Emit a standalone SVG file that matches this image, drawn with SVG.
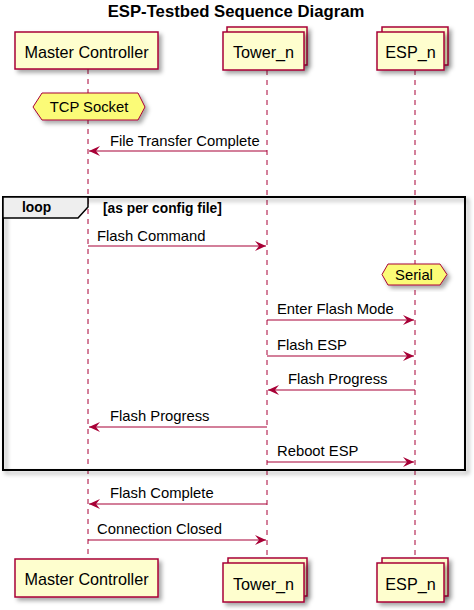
<svg xmlns="http://www.w3.org/2000/svg" width="474" height="610" viewBox="0 0 474 610">
<style>
text{font-family:"Liberation Sans",Arial,sans-serif;fill:#000}
.title{font-size:16.7px;font-weight:bold}
.pname{font-size:16.2px}
.msg{font-size:14.8px}
.box{fill:#FEFECE;stroke:#A80036;stroke-width:1.5}
.life{stroke:#A80036;stroke-width:1;stroke-dasharray:5,5;fill:none}
.hex{fill:#FBFB77;stroke:#A80036;stroke-width:1}
.arrow{stroke:#A80036;stroke-width:1.2;fill:none;marker-end:url(#ah)}
.loop{fill:none;stroke:#000;stroke-width:2}
.tab{fill:#EEEEEE;stroke:#000;stroke-width:1.5}
.bold{font-weight:bold;font-size:13.8px}
</style>
<defs>
<filter id="sh" x="-10%" y="-10%" width="130%" height="140%">
<feDropShadow dx="3" dy="3" stdDeviation="2" flood-color="#000" flood-opacity="0.35"/>
</filter>
<marker id="ah" viewBox="0 0 12 10" refX="11" refY="5" markerWidth="12" markerHeight="10" markerUnits="userSpaceOnUse" orient="auto">
<path d="M0,0 L11,5 L0,10 L4,5 Z" fill="#A80036"/>
</marker>
</defs>
<rect width="474" height="610" fill="#fff"/>
<text class="title" x="236" y="17" text-anchor="middle">ESP-Testbed Sequence Diagram</text>

<g id="lifelines">
<line class="life" x1="88" y1="69" x2="88" y2="559"/>
<line class="life" x1="267" y1="70" x2="267" y2="563"/>
<line class="life" x1="415" y1="70" x2="415" y2="563"/>
</g>

<g id="loop">
<rect class="loop" x="3" y="197" width="462" height="273" filter="url(#sh)"/>
<polygon class="tab" points="3,197 88,197 88,207 78,218 3,218"/>
<text class="bold" x="22" y="212">loop</text>
<text class="bold" x="103" y="213">[as per config file]</text>
</g>

<g id="master-top">
<rect class="box" x="15" y="32" width="143" height="37" filter="url(#sh)"/>
<text class="pname" x="86.5" y="58" text-anchor="middle">Master Controller</text>
</g>
<g id="tower-top">
<rect class="box" x="227" y="27" width="80" height="38" filter="url(#sh)"/>
<rect class="box" x="223" y="32" width="81" height="38" filter="url(#sh)"/>
<text class="pname" x="263.5" y="58" text-anchor="middle">Tower_n</text>
</g>
<g id="esp-top">
<rect class="box" x="382" y="27" width="66" height="38" filter="url(#sh)"/>
<rect class="box" x="377" y="32" width="67" height="38" filter="url(#sh)"/>
<text class="pname" x="410.5" y="58" text-anchor="middle">ESP_n</text>
</g>

<g id="master-bottom">
<rect class="box" x="15" y="559" width="143" height="38" filter="url(#sh)"/>
<text class="pname" x="86.5" y="585" text-anchor="middle">Master Controller</text>
</g>
<g id="tower-bottom">
<rect class="box" x="228" y="558" width="79" height="38" filter="url(#sh)"/>
<rect class="box" x="223" y="563" width="81" height="39" filter="url(#sh)"/>
<text class="pname" x="263.5" y="590" text-anchor="middle">Tower_n</text>
</g>
<g id="esp-bottom">
<rect class="box" x="382" y="558" width="66" height="38" filter="url(#sh)"/>
<rect class="box" x="377" y="563" width="67" height="39" filter="url(#sh)"/>
<text class="pname" x="410.5" y="590" text-anchor="middle">ESP_n</text>
</g>

<g id="note-tcp">
<polygon class="hex" points="33,107 42,93 138,93 145,107 138,120 42,120" filter="url(#sh)"/>
<text class="msg" x="89" y="112" text-anchor="middle">TCP Socket</text>
</g>
<g id="note-serial">
<polygon class="hex" points="382,274.5 388,264 440,264 447,274.5 440,285 388,285" filter="url(#sh)"/>
<text class="msg" x="414" y="280" text-anchor="middle">Serial</text>
</g>

<g id="connectors">
<line class="arrow" x1="267" y1="151" x2="89" y2="151"/>
<line class="arrow" x1="88" y1="246" x2="266" y2="246"/>
<line class="arrow" x1="267" y1="320" x2="414" y2="320"/>
<line class="arrow" x1="267" y1="356" x2="414" y2="356"/>
<line class="arrow" x1="415" y1="390" x2="268" y2="390"/>
<line class="arrow" x1="267" y1="427" x2="89" y2="427"/>
<line class="arrow" x1="267" y1="462" x2="414" y2="462"/>
<line class="arrow" x1="267" y1="504" x2="89" y2="504"/>
<line class="arrow" x1="88" y1="540" x2="266" y2="540"/>
</g>

<g id="labels">
<text class="msg" x="110" y="146">File Transfer Complete</text>
<text class="msg" x="97" y="241">Flash Command</text>
<text class="msg" x="277" y="314">Enter Flash Mode</text>
<text class="msg" x="277" y="350">Flash ESP</text>
<text class="msg" x="288" y="384">Flash Progress</text>
<text class="msg" x="110" y="421">Flash Progress</text>
<text class="msg" x="277" y="456">Reboot ESP</text>
<text class="msg" x="110" y="498">Flash Complete</text>
<text class="msg" x="97" y="534">Connection Closed</text>
</g>
</svg>
